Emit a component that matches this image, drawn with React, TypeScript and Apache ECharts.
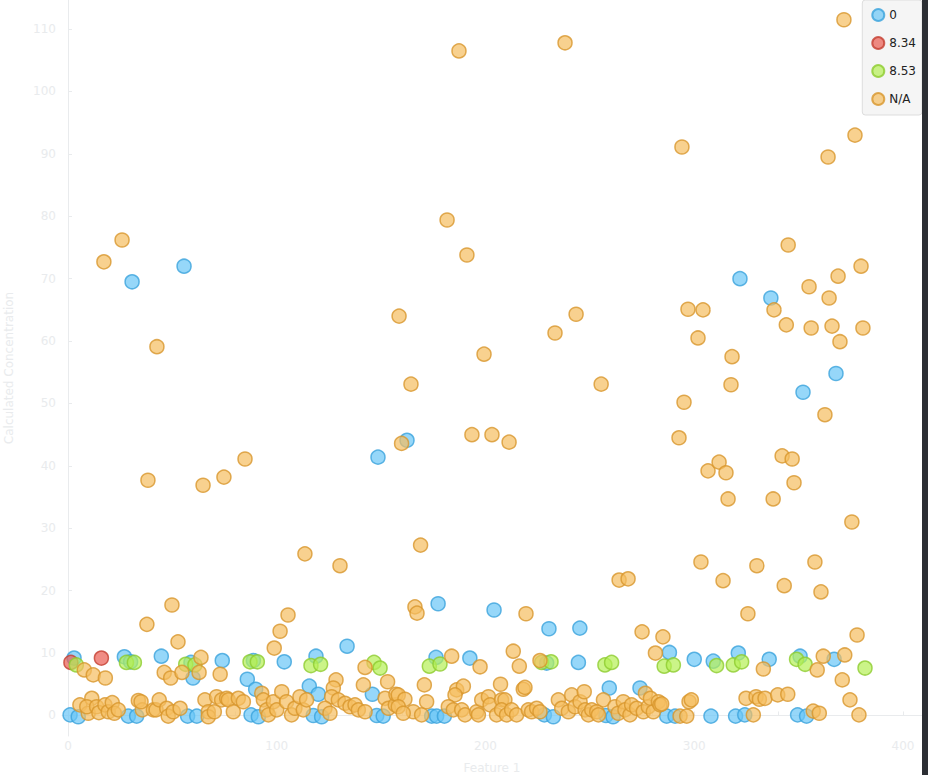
import React, { useEffect, useRef } from "react";
import * as echarts from "echarts";

const seriesNames = ["0", "8.34", "8.53", "N/A"];

const blueZero: number[][] = [
  [30.7, 69.5], [55.6, 72.0], [148.5, 41.4], [162.4, 44.1], [177.3, 17.9], [204.1, 16.9], [230.4, 13.9], [245.2, 14.0],
  [321.9, 70.0], [336.7, 66.9], [352.1, 51.8], [367.9, 54.8], [133.7, 11.1],
  [2.9, 9.2], [27.0, 9.4], [30.0, 8.6], [44.7, 9.5], [58.9, 8.5], [73.9, 8.8], [88.8, 8.8], [103.6, 8.6], [118.8, 9.5],
  [176.3, 9.3], [192.5, 9.2], [229.3, 8.4], [244.5, 8.5], [288.1, 10.1], [300.0, 9.0], [309.1, 8.7], [321.1, 10.0],
  [335.9, 9.0], [350.7, 9.5], [367.0, 9.0],
  [59.9, 6.0], [85.9, 5.8], [89.9, 4.2], [115.6, 4.7], [119.9, 3.4], [145.8, 3.4], [259.3, 4.4], [274.0, 4.4],
  [1.0, 0.1], [4.9, -0.2], [28.9, -0.1], [32.9, -0.1], [57.3, -0.1], [61.7, -0.1], [87.7, 0.1], [91.2, -0.2],
  [117.5, 0], [121.5, -0.2], [147.9, 0], [151.0, -0.1], [174.2, -0.1], [176.6, -0.1], [180.3, -0.1], [228.2, 0.1],
  [232.5, -0.2], [257.7, 0], [261.1, -0.2], [286.8, -0.1], [290.8, -0.1], [308.0, -0.1], [319.8, -0.1], [324.2, 0.1],
  [349.5, 0.1], [353.8, -0.1],
];

const redSeries: number[][] = [[1.4, 8.5], [16.0, 9.2]];

const greenSeries: number[][] = [
  [4.0, 8.1], [28.0, 8.5], [31.8, 8.5], [56.4, 8.2], [60.8, 8.1], [87.2, 8.6], [90.7, 8.6], [116.4, 8.0], [121.0, 8.2],
  [146.6, 8.5], [149.5, 7.6], [173.1, 7.9], [178.2, 8.25], [226.9, 8.5], [231.4, 8.6], [257.2, 8.1], [260.4, 8.5],
  [285.6, 7.9], [290.0, 8.1], [310.7, 8.0], [318.7, 8.1], [322.7, 8.6], [349.0, 9.0], [353.1, 8.2], [381.8, 7.6],
];

const orangeHigh: number[][] = [
  [17.2, 72.7], [25.9, 76.2], [38.3, 37.7], [42.6, 59.1], [37.8, 14.6], [49.8, 17.7], [52.7, 11.8], [64.7, 36.9],
  [74.7, 38.2], [84.8, 41.1], [105.4, 16.1], [101.6, 13.5], [98.8, 10.8], [113.5, 25.9], [130.3, 24.0], [158.6, 64.0],
  [164.3, 53.1], [159.8, 43.6], [168.9, 27.3], [166.2, 17.4], [167.2, 16.4], [181.6, 79.4], [187.3, 106.5], [191.1, 73.8],
  [193.5, 45.0], [199.3, 57.9], [203.1, 45.0], [211.3, 43.8], [219.4, 16.3], [213.3, 10.3], [233.3, 61.3], [238.1, 107.8],
  [243.4, 64.3], [255.4, 53.1], [264.0, 21.7], [268.3, 21.9], [275.0, 13.4], [285.0, 12.6], [281.4, 10.0], [292.7, 44.5],
  [294.1, 91.1], [295.1, 50.2], [297.0, 65.1], [301.8, 60.5], [304.2, 65.0], [303.2, 24.6], [306.6, 39.2], [311.9, 40.6],
  [313.8, 21.6], [315.2, 38.9], [316.2, 34.7], [317.6, 53.0], [318.1, 57.5], [325.7, 16.3], [330.0, 24.0], [338.2, 65.0],
  [337.8, 34.7], [342.1, 41.6], [343.1, 20.8], [344.1, 62.6], [345.0, 75.4], [346.9, 41.1], [347.8, 37.3], [355.0, 68.7],
  [356.0, 62.1], [357.8, 24.6], [360.7, 19.8], [362.6, 48.2], [364.1, 89.5], [364.6, 66.9], [366.0, 62.4], [368.9, 70.4],
  [369.8, 59.9], [371.7, 111.5], [375.5, 31.0], [377.0, 93.0], [379.9, 72.0], [380.8, 62.1], [378.0, 12.9],
];

const orangeMid: number[][] = [
  [7.8, 7.3], [12.1, 6.5], [17.9, 6.0], [46.1, 6.9], [49.2, 6.0], [54.6, 6.9], [63.7, 9.3], [62.8, 6.9], [72.9, 6.6],
  [142.3, 7.7], [141.5, 4.9], [153.1, 5.4], [128.4, 5.7], [127.1, 4.4], [126.3, 3.0], [183.8, 9.5], [197.4, 7.8],
  [216.2, 7.9], [226.1, 8.8], [170.7, 4.9], [186.2, 4.1], [189.4, 4.7], [185.4, 3.3], [207.2, 5.0], [218.1, 4.2],
  [218.9, 4.5], [333.1, 7.45], [358.9, 7.3], [361.8, 9.5], [372.1, 9.7], [370.9, 5.7], [374.6, 2.5], [378.9, 0.1],
];

const orangeLow: number[][] = [
  [5.7, 1.7], [9.7, 0.35], [11.4, 2.75], [9.0, 1.4], [13.7, 1.4], [14.8, 0.45], [17.7, 1.7], [19.3, 0.6], [21.2, 2.05],
  [22.2, 0.35], [24.1, 0.9], [33.7, 2.4], [35.6, 0.9], [35.0, 2.2], [40.9, 0.9], [42.2, 0.9], [43.7, 2.5], [47.3, 1.15],
  [48.0, -0.1], [50.4, 0.6], [53.7, 1.15], [65.6, 2.5], [67.2, 0.6], [67.2, -0.2], [70.1, 0.6], [71.2, 3.0], [73.6, 2.5],
  [76.0, 2.75], [76.8, 2.5], [79.2, 0.6], [81.6, 2.75], [84.0, 2.2], [92.8, 3.55], [93.6, 2.5], [95.2, 0.9], [96.0, 0.1],
  [98.4, 2.2], [100.0, 0.9], [102.4, 3.8], [104.7, 2.2], [107.1, 0.1], [108.7, 1.15], [111.1, 3.0], [112.7, 0.9],
  [114.3, 2.5], [123.1, 1.15], [125.5, 0.35], [129.5, 2.5], [132.7, 1.95], [135.1, 1.4], [137.5, 1.7], [139.1, 0.9],
  [142.3, 0.6], [151.9, 2.75], [153.5, 1.15], [156.8, 1.7], [157.1, 3.4], [158.2, 3.3], [161.4, 2.6], [158.2, 1.4],
  [165.4, 0.6], [169.4, 0.1], [160.6, 0.35], [171.8, 2.2], [182.2, 1.4], [184.6, 0.9], [188.6, 0.9], [190.2, 0.1],
  [195.8, 0.6], [196.6, 0.1], [198.2, 2.5], [201.4, 3.0], [202.2, 1.7], [205.3, 0.1], [207.7, 2.5], [209.3, 2.5],
  [207.7, 0.9], [210.1, 0.1], [212.5, 0.9], [214.9, 0.1], [220.5, 0.9], [222.1, 0.6], [224.5, 1.15], [226.1, 0.6],
  [234.9, 2.5], [236.5, 1.15], [239.7, 0.6], [241.3, 3.3], [242.9, 1.4], [245.3, 2.2], [247.3, 3.8], [247.7, 0.9],
  [249.3, 0.1], [250.9, 0.9], [253.3, 0.6], [254.1, 0.1], [256.5, 2.5], [262.0, 1.4], [263.6, 0.35], [266.0, 2.2],
  [266.8, 0.9], [269.2, 0.1], [270.0, 1.7], [272.4, 1.15], [275.6, 0.6], [276.6, 3.55], [278.0, 1.4], [279.0, 2.75],
  [280.4, 0.6], [282.8, 2.2], [283.6, 1.7], [284.4, 1.85], [293.2, -0.1], [296.4, -0.1], [297.5, 2.2], [298.6, 2.5],
  [324.8, 2.75], [329.6, 3.0], [331.2, 2.6], [333.9, 2.75], [340.0, 3.3], [344.8, 3.4], [328.3, 0.1], [357.0, 0.7],
  [359.9, 0.35],
];

const xTickLabels = [0, 100, 200, 300, 400];
const xTicks = [0, 20, 40, 60, 80, 100, 120, 140, 160, 180, 200, 220, 240, 260, 280, 300, 320, 340, 360, 380, 400];
const yTickLabels = [0, 10, 20, 30, 40, 50, 60, 70, 80, 90, 100, 110];

const faint = "#e9ebed";

export default function App() {
  const ref = useRef<HTMLDivElement>(null);
  useEffect(() => {
    if (!ref.current) return;
    const chart = echarts.init(ref.current, undefined, { renderer: "svg" });
    const mk = (name: string, data: number[][], fill: string, border: string) => ({
      name,
      type: "scatter",
      data,
      symbol: "circle",
      symbolSize: 14,
      itemStyle: { color: fill, borderColor: border, borderWidth: 1.5 },
    });
    chart.setOption({
      animation: false,
      textStyle: { fontFamily: "DejaVu Sans" },
      grid: { left: 62, right: 0, top: 0, bottom: 39, containLabel: false, outerBoundsMode: "none" },
      legend: {
        orient: "vertical",
        right: 0,
        top: 0,
        data: seriesNames,
        icon: "circle",
        itemWidth: 12,
        itemHeight: 12,
        itemGap: 14,
        padding: [8, 6, 9, 9],
        backgroundColor: "#f5f5f5",
        borderColor: "#dddddd",
        borderWidth: 1,
        borderRadius: 3,
        textStyle: { color: "#222", fontSize: 12, fontFamily: "DejaVu Sans" },
      },
      xAxis: {
        type: "value",
        min: -2.87,
        max: 409.1,
        name: "Feature 1",
        nameLocation: "middle",
        nameGap: 26,
        nameTextStyle: { color: faint, fontSize: 12 },
        splitLine: { show: false },
        axisLine: { show: true, lineStyle: { color: faint } },
        axisTick: { show: true, inside: true, length: 4, customValues: xTicks, lineStyle: { color: faint } },
        axisLabel: { color: faint, fontSize: 12, margin: 4, customValues: xTickLabels },
      },
      yAxis: {
        type: "value",
        min: -3.29,
        max: 114.66,
        name: "Calculated Concentration",
        nameLocation: "middle",
        nameGap: 47,
        nameTextStyle: { color: faint, fontSize: 12 },
        splitLine: { show: false },
        axisLine: { show: true, lineStyle: { color: faint } },
        axisTick: { show: true, inside: true, length: 4, customValues: yTickLabels, lineStyle: { color: faint } },
        axisLabel: { color: faint, fontSize: 12, margin: 6, customValues: yTickLabels },
      },
      series: [
        mk("0", blueZero, "rgba(106,198,246,0.88)", "#3aa3dc"),
        mk("8.34", redSeries, "rgba(234,96,84,0.9)", "#c43d30"),
        mk("8.53", greenSeries, "rgba(182,240,86,0.88)", "#8dcc2e"),
        mk("N/A", [...orangeHigh, ...orangeMid, ...orangeLow], "rgba(245,190,96,0.88)", "#d8962c"),
      ],
    });
    return () => chart.dispose();
  }, []);
  return (
    <div style={{ position: "fixed", left: 0, top: 0, width: 928, height: 775, background: "#fff" }}>
      <div ref={ref} style={{ position: "absolute", left: 0, top: 0, width: 922, height: 775 }} />
      <div style={{ position: "absolute", left: 922, top: 0, width: 6, height: 775, background: "#2c2f34" }} />
    </div>
  );
}
